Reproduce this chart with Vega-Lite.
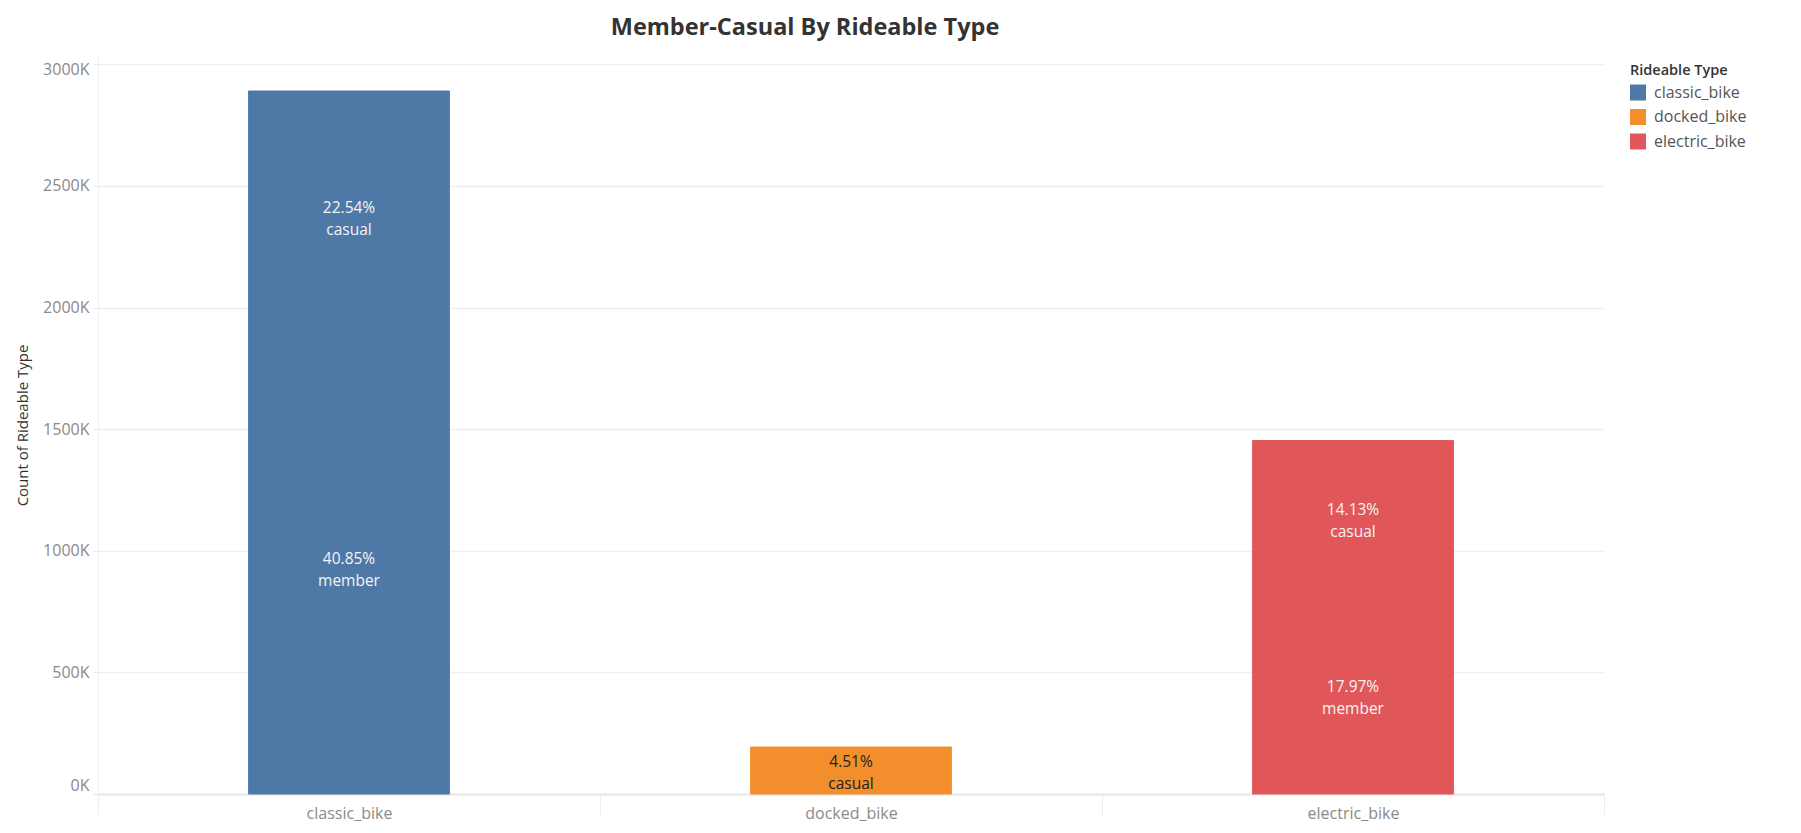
{
  "$schema": "https://vega.github.io/schema/vega-lite/v6.json",
  "autosize": {"type": "none"},
  "padding": {"left": 98, "top": 56, "right": 197, "bottom": 39},
  "width": 1506,
  "height": 738,
  "background": "white",
  "title": {
    "text": "Member-Casual By Rideable Type",
    "font": "Open Sans",
    "fontSize": 23.5,
    "fontWeight": "bold",
    "color": "#333333",
    "anchor": "middle",
    "dx": -46,
    "offset": 17
  },
  "data": {
    "values": [
      {"type": "classic_bike", "rider": "member", "order": 1, "count": 1862000, "label": "40.85%\nmember"},
      {"type": "classic_bike", "rider": "casual", "order": 2, "count": 1028000, "label": "22.54%\ncasual"},
      {"type": "docked_bike", "rider": "casual", "order": 2, "count": 193000, "label": "4.51%\ncasual"},
      {"type": "electric_bike", "rider": "member", "order": 1, "count": 813000, "label": "17.97%\nmember"},
      {"type": "electric_bike", "rider": "casual", "order": 2, "count": 640000, "label": "14.13%\ncasual"}
    ]
  },
  "config": {
    "view": {"stroke": null},
    "font": "Open Sans"
  },
  "encoding": {
    "x": {
      "field": "type",
      "type": "nominal",
      "sort": ["classic_bike", "docked_bike", "electric_bike"],
      "scale": {"paddingInner": 0, "paddingOuter": 0},
      "axis": {
        "title": null,
        "labelAngle": 0,
        "labelFont": "Open Sans",
        "labelFontSize": 16,
        "labelColor": "#8a8a8a",
        "labelPadding": -10,
        "tickBand": "extent",
        "tickSize": 21,
        "tickColor": "#ececec",
        "domainColor": "#e8e8e8",
        "domainWidth": 2
      }
    },
    "y": {
      "field": "count",
      "type": "quantitative",
      "stack": "zero",
      "scale": {"domain": [0, 3034000], "nice": false},
      "axis": {
        "title": "Count of Rideable Type",
        "titleFont": "Open Sans",
        "titleFontSize": 15,
        "titleFontWeight": "normal",
        "titleColor": "#333333",
        "titlePadding": 12,
        "values": [0, 500000, 1000000, 1500000, 2000000, 2500000, 3000000],
        "labelExpr": "datum.value / 1000 + 'K'",
        "labelBaseline": "middle",
        "labelOffset": {"expr": "datum.value == 0 ? -9 : datum.value == 3000000 ? 5 : 0"},
        "labelFont": "Open Sans",
        "labelFontSize": 16,
        "labelColor": "#8a8a8a",
        "labelPadding": 4,
        "tickSize": 5,
        "tickColor": "#e6e6e6",
        "domainColor": "#f0f0f0",
        "gridColor": "#efefef",
        "gridWidth": 1.5
      }
    },
    "order": {"field": "order", "type": "quantitative"}
  },
  "layer": [
    {
      "mark": {"type": "bar", "width": {"band": 0.4}, "strokeWidth": 1},
      "encoding": {
        "color": {
          "field": "type",
          "type": "nominal",
          "scale": {
            "domain": ["classic_bike", "docked_bike", "electric_bike"],
            "range": ["#4e79a7", "#f28e2b", "#e15759"]
          },
          "legend": {
            "title": "Rideable Type",
            "orient": "none",
            "legendX": 1532,
            "legendY": 8,
            "titleFont": "Open Sans",
            "titleFontSize": 14.5,
            "titleFontWeight": 600,
            "titleColor": "#333333",
            "titlePadding": 6,
            "labelFont": "Open Sans",
            "labelFontSize": 16,
            "labelColor": "#555555",
            "symbolType": "square",
            "symbolSize": 256,
            "symbolStrokeWidth": 0,
            "symbolOpacity": 1,
            "rowPadding": 8.5,
            "labelOffset": 8
          }
        },
        "stroke": {
          "field": "type",
          "type": "nominal",
          "scale": {
            "domain": ["classic_bike", "docked_bike", "electric_bike"],
            "range": ["#4e79a7", "#f28e2b", "#e15759"]
          },
          "legend": null
        }
      }
    },
    {
      "mark": {
        "type": "text",
        "lineBreak": "\n",
        "lineHeight": 22,
        "fontSize": 15.5,
        "font": "Open Sans",
        "baseline": "middle",
        "align": "center",
        "dy": -8.5
      },
      "encoding": {
        "y": {
          "field": "count",
          "type": "quantitative",
          "stack": "zero",
          "bandPosition": 0.5
        },
        "text": {"field": "label"},
        "color": {
          "condition": {"test": "datum.type === 'docked_bike'", "value": "#222222"},
          "value": "#f4f4f4"
        }
      }
    }
  ]
}
